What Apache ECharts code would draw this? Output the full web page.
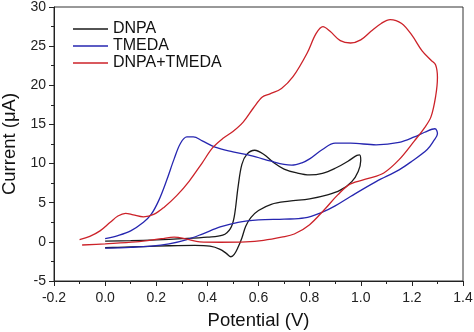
<!DOCTYPE html>
<html>
<head>
<meta charset="utf-8">
<script src="https://cdn.jsdelivr.net/npm/echarts@6/dist/echarts.min.js"></script>
<style>html,body{margin:0;padding:0;background:#fff;}#c{width:474px;height:332px;}</style>
</head>
<body>
<div id="c"></div>
<script>
var seriesNames = ['DNPA', 'TMEDA', 'DNPA+TMEDA'];
var xTicks = [-0.2, 1.4, 0.2];
var yTicks = [-5, 30, 5];

var dnpaPoints = [
  [0.00,0.10],[0.10,0.15],[0.20,0.25],[0.30,0.40],[0.40,0.60],[0.46,0.85],[0.49,1.7],[0.505,3.2],
  [0.52,7.0],[0.535,9.9],[0.555,11.2],[0.585,11.7],[0.62,11.2],[0.66,10.1],[0.70,9.3],[0.75,8.8],
  [0.80,8.55],[0.85,8.75],[0.90,9.4],[0.95,10.3],[0.985,11.05],[0.995,11.1],[1.0,10.4],[0.99,9.0],
  [0.965,7.7],[0.92,6.6],[0.87,6.0],[0.80,5.5],[0.72,5.2],[0.65,4.8],[0.60,4.0],[0.57,3.1],
  [0.55,2.0],[0.535,0.5],[0.52,-0.7],[0.505,-1.6],[0.492,-1.9],[0.475,-1.5],[0.45,-0.95],[0.41,-0.55],
  [0.35,-0.45],[0.25,-0.5],[0.15,-0.6],[0.05,-0.7],[0.0,-0.75]
];
var tmedaPoints = [
  [0.0,0.4],[0.05,0.8],[0.10,1.4],[0.15,2.5],[0.18,3.5],[0.21,5.3],[0.24,7.8],[0.27,10.6],
  [0.295,12.6],[0.32,13.4],[0.345,13.4],[0.38,12.9],[0.43,12.1],[0.5,11.5],[0.57,11.0],[0.65,10.3],
  [0.70,9.9],[0.73,9.8],[0.77,10.1],[0.80,10.6],[0.85,11.8],[0.90,12.6],[0.96,12.6],[1.06,12.4],
  [1.15,12.7],[1.21,13.4],[1.25,14.0],[1.29,14.45],[1.30,13.8],[1.285,12.9],[1.26,11.8],[1.2,10.3],
  [1.15,9.2],[1.06,7.7],[0.96,5.8],[0.90,4.6],[0.85,3.8],[0.78,3.05],[0.70,2.9],[0.60,2.8],
  [0.52,2.5],[0.45,1.9],[0.38,1.0],[0.32,0.3],[0.25,-0.25],[0.18,-0.55],[0.1,-0.7],[0.0,-0.8]
];
var mixPoints = [
  [-0.1,0.3],[-0.06,0.7],[-0.02,1.4],[0.02,2.5],[0.05,3.3],[0.08,3.65],[0.11,3.45],[0.15,3.2],
  [0.19,3.5],[0.23,4.4],[0.28,5.9],[0.33,7.8],[0.38,10.1],[0.42,12.0],[0.46,13.2],[0.50,14.1],
  [0.54,15.3],[0.58,17.1],[0.615,18.5],[0.645,18.9],[0.69,19.6],[0.735,21.1],[0.79,24.1],[0.825,26.6],
  [0.852,27.5],[0.88,26.9],[0.92,25.7],[0.96,25.4],[1.0,25.8],[1.04,26.9],[1.08,27.9],[1.115,28.4],
  [1.16,27.9],[1.2,26.4],[1.24,24.4],[1.275,23.2],[1.293,22.6],[1.30,21.0],[1.293,18.6],[1.275,16.0],
  [1.25,14.6],[1.21,12.9],[1.15,10.5],[1.09,8.8],[1.03,8.1],[0.96,7.4],[0.91,6.0],[0.86,4.2],
  [0.80,2.2],[0.74,1.0],[0.69,0.6],[0.62,0.2],[0.55,0.0],[0.45,-0.05],[0.37,0.0],[0.32,0.35],
  [0.27,0.6],[0.22,0.4],[0.12,0.0],[0.0,-0.25],[-0.09,-0.4]
];
var seriesColors = ['#1a1a1a', '#2626b0', '#cc2229'];

var chart = echarts.init(document.getElementById('c'), null, {renderer: 'canvas'});
var dataSets = [dnpaPoints, tmedaPoints, mixPoints];
var axisFont = 'Liberation Sans, Arial, sans-serif';
chart.setOption({
  animation: false,
  backgroundColor: '#fff',
  grid: {left: 54, right: 11, top: 7, bottom: 51, show: true, borderColor: '#333', borderWidth: 1,
    containLabel: false, outerBoundsMode: 'none'},
  legend: {
    orient: 'vertical', left: 68, top: 16, itemGap: 1,
    itemWidth: 35, itemHeight: 1.5, icon: 'rect',
    textStyle: {fontSize: 16, color: '#111', fontFamily: axisFont, padding: [0, 0, 0, 0]},
    data: seriesNames
  },
  xAxis: {
    type: 'value', min: xTicks[0], max: xTicks[1], interval: xTicks[2],
    name: 'Potential (V)', nameLocation: 'middle', nameGap: 30,
    nameTextStyle: {fontSize: 18.5, color: '#111', fontFamily: axisFont},
    axisLine: {show: true, onZero: false, lineStyle: {color: '#222', width: 1}},
    axisTick: {show: true, inside: false, length: 5, lineStyle: {color: '#222'}},
    minorTick: {show: true, splitNumber: 2, length: 3, lineStyle: {color: '#222'}},
    splitLine: {show: false},
    axisLabel: {fontSize: 14, color: '#222', margin: 10, fontFamily: axisFont,
      formatter: function (v) { return v.toFixed(1); }}
  },
  yAxis: {
    type: 'value', min: yTicks[0], max: yTicks[1], interval: yTicks[2],
    name: 'Current (\u03bcA)', nameLocation: 'middle', nameGap: 32,
    nameTextStyle: {fontSize: 18.5, color: '#111', fontFamily: axisFont},
    axisLine: {show: true, onZero: false, lineStyle: {color: '#222', width: 1}},
    axisTick: {show: true, inside: false, length: 5, lineStyle: {color: '#222'}},
    minorTick: {show: true, splitNumber: 2, length: 3, lineStyle: {color: '#222'}},
    splitLine: {show: false},
    axisLabel: {fontSize: 14, color: '#222', margin: 8, fontFamily: axisFont}
  },
  series: seriesNames.map(function (n, i) {
    return {
      name: n, type: 'line', data: dataSets[i], smooth: 0.35, showSymbol: false, symbol: 'none',
      color: seriesColors[i],
      lineStyle: {color: seriesColors[i], width: 1.3}
    };
  })
});
</script>
</body>
</html>
